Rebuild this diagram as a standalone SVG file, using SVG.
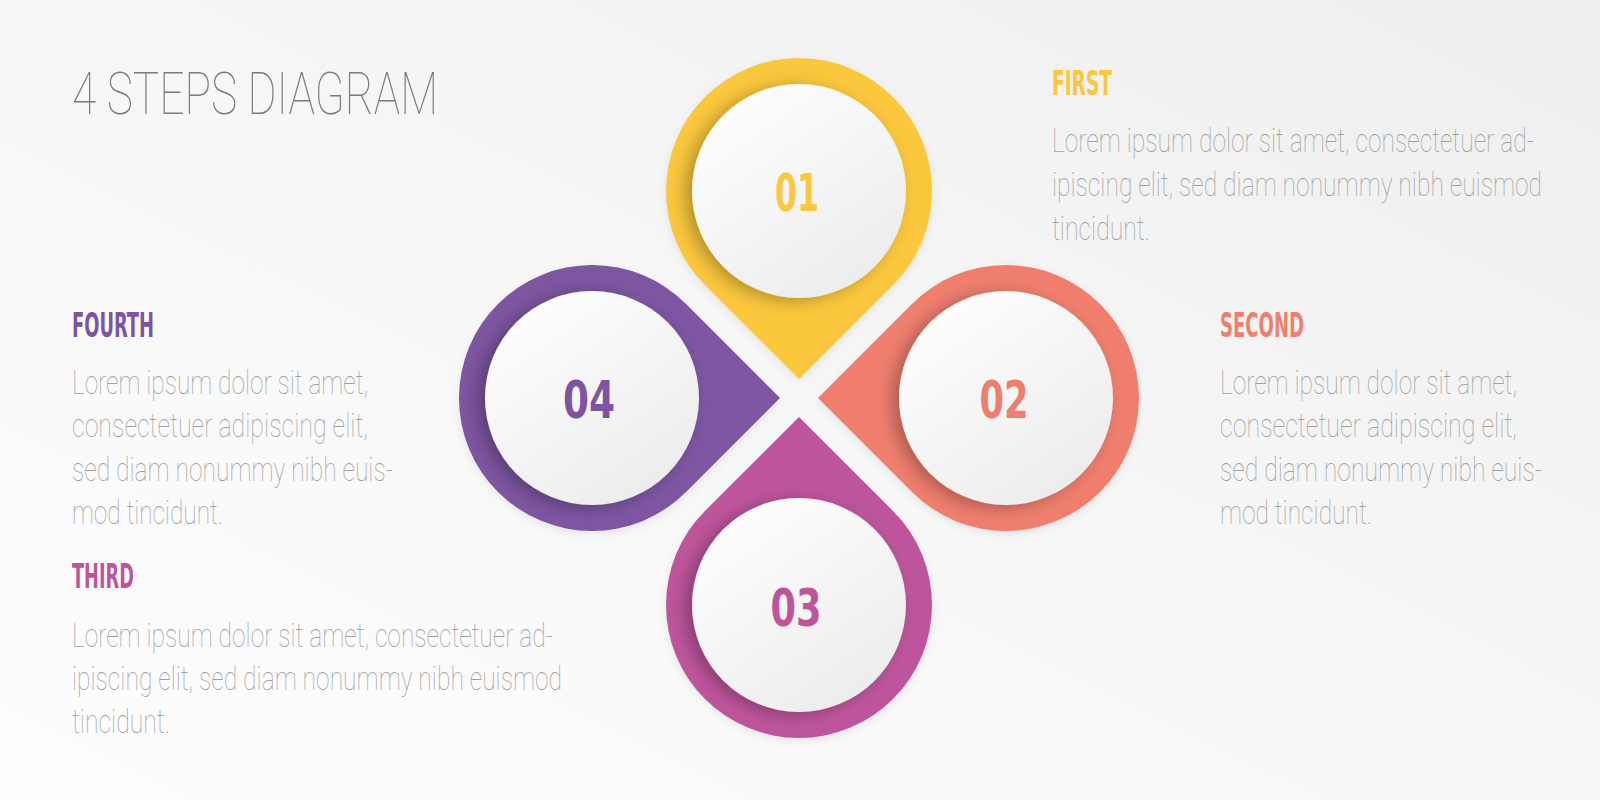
<svg xmlns="http://www.w3.org/2000/svg" xmlns:xlink="http://www.w3.org/1999/xlink" width="1600" height="800" viewBox="0 0 1600 800">
  <defs>
    <linearGradient id="bg" x1="0" y1="1" x2="1" y2="0">
      <stop offset="0" stop-color="#fdfdfd"/>
      <stop offset="0.5" stop-color="#f7f7f7"/>
      <stop offset="1" stop-color="#eeeeee"/>
    </linearGradient>
    <linearGradient id="innerGrad" x1="0.2" y1="0.1" x2="0.8" y2="0.95">
      <stop offset="0" stop-color="#fdfdfd"/>
      <stop offset="1" stop-color="#ececec"/>
    </linearGradient>
    <filter id="outerShadow" x="-20%" y="-20%" width="140%" height="140%">
      <feDropShadow dx="0" dy="3" stdDeviation="4" flood-color="#000" flood-opacity="0.08"/>
    </filter>
    <filter id="innerShadow" x="-30%" y="-30%" width="160%" height="160%">
      <feDropShadow dx="-7" dy="3" stdDeviation="8" flood-color="#000" flood-opacity="0.28"/>
    </filter>
    <path id="drop" d="M0,188 L94.05,94.05 A133,133 0 1 0 -94.05,94.05 Z"/>
    <style>
      .title { font-family: Roboto, "Liberation Sans", sans-serif; font-weight: 100; font-size: 60px; fill: #7a7a7a; }
      .head { font-family: "DejaVu Sans Condensed", "DejaVu Sans", sans-serif; font-weight: bold; font-size: 34px; }
      .body { font-family: Roboto, "Liberation Sans", sans-serif; font-weight: 100; font-size: 34px; fill: #a0a0a0; }
      .num { font-family: "DejaVu Sans Condensed", "DejaVu Sans", sans-serif; font-weight: bold; font-size: 51px; text-anchor: middle; }
      .yellow { fill: #fac73e; }
      .salmon { fill: #ef7e6e; }
      .magenta { fill: #be559c; }
      .purple { fill: #7d54a1; }
    </style>
  </defs>

  <rect x="0" y="0" width="1600" height="800" fill="url(#bg)"/>

  <text class="title" x="72" y="114" textLength="366" lengthAdjust="spacingAndGlyphs">4 STEPS DIAGRAM</text>

  <g id="connectors"></g>

  <g id="node1" transform="translate(799,191)">
    <g filter="url(#outerShadow)"><use href="#drop" class="yellow"/></g>
    <circle r="107" fill="url(#innerGrad)" filter="url(#innerShadow)"/>
    <text class="num yellow" x="-2" y="20" textLength="44" lengthAdjust="spacingAndGlyphs">01</text>
  </g>

  <g id="node2" transform="translate(1006,398)">
    <g filter="url(#outerShadow)"><use href="#drop" class="salmon" transform="rotate(90)"/></g>
    <circle r="107" fill="url(#innerGrad)" filter="url(#innerShadow)"/>
    <text class="num salmon" x="-2" y="20" textLength="49" lengthAdjust="spacingAndGlyphs">02</text>
  </g>

  <g id="node3" transform="translate(799,605)">
    <g filter="url(#outerShadow)"><use href="#drop" class="magenta" transform="rotate(180)"/></g>
    <circle r="107" fill="url(#innerGrad)" filter="url(#innerShadow)"/>
    <text class="num magenta" x="-3" y="21" textLength="51" lengthAdjust="spacingAndGlyphs">03</text>
  </g>

  <g id="node4" transform="translate(592,398)">
    <g filter="url(#outerShadow)"><use href="#drop" class="purple" transform="rotate(-90)"/></g>
    <circle r="107" fill="url(#innerGrad)" filter="url(#innerShadow)"/>
    <text class="num purple" x="-3" y="20" textLength="52" lengthAdjust="spacingAndGlyphs">04</text>
  </g>

  <g id="text-first">
    <text class="head yellow" x="1052" y="95" textLength="60" lengthAdjust="spacingAndGlyphs">FIRST</text>
    <text class="body" transform="translate(1052,152) scale(0.72,1)" textLength="669.4" lengthAdjust="spacingAndGlyphs">Lorem ipsum dolor sit amet, consectetuer ad-</text>
    <text class="body" transform="translate(1052,196) scale(0.72,1)" textLength="680.6" lengthAdjust="spacingAndGlyphs">ipiscing elit, sed diam nonummy nibh euismod</text>
    <text class="body" transform="translate(1052,240) scale(0.72,1)" textLength="136.1" lengthAdjust="spacingAndGlyphs">tincidunt.</text>
  </g>

  <g id="text-second">
    <text class="head salmon" x="1220" y="337" textLength="84" lengthAdjust="spacingAndGlyphs">SECOND</text>
    <text class="body" transform="translate(1220,394) scale(0.72,1)" textLength="412.5" lengthAdjust="spacingAndGlyphs">Lorem ipsum dolor sit amet,</text>
    <text class="body" transform="translate(1220,437) scale(0.72,1)" textLength="412.5" lengthAdjust="spacingAndGlyphs">consectetuer adipiscing elit,</text>
    <text class="body" transform="translate(1220,481) scale(0.72,1)" textLength="447.2" lengthAdjust="spacingAndGlyphs">sed diam nonummy nibh euis-</text>
    <text class="body" transform="translate(1220,524) scale(0.72,1)" textLength="211.1" lengthAdjust="spacingAndGlyphs">mod tincidunt.</text>
  </g>

  <g id="text-fourth">
    <text class="head purple" x="72" y="337" textLength="82" lengthAdjust="spacingAndGlyphs">FOURTH</text>
    <text class="body" transform="translate(72,394) scale(0.72,1)" textLength="411.1" lengthAdjust="spacingAndGlyphs">Lorem ipsum dolor sit amet,</text>
    <text class="body" transform="translate(72,437) scale(0.72,1)" textLength="411.1" lengthAdjust="spacingAndGlyphs">consectetuer adipiscing elit,</text>
    <text class="body" transform="translate(72,481) scale(0.72,1)" textLength="445.8" lengthAdjust="spacingAndGlyphs">sed diam nonummy nibh euis-</text>
    <text class="body" transform="translate(72,524) scale(0.72,1)" textLength="209.7" lengthAdjust="spacingAndGlyphs">mod tincidunt.</text>
  </g>

  <g id="text-third">
    <text class="head magenta" x="72" y="588" textLength="62" lengthAdjust="spacingAndGlyphs">THIRD</text>
    <text class="body" transform="translate(72,647) scale(0.72,1)" textLength="668.1" lengthAdjust="spacingAndGlyphs">Lorem ipsum dolor sit amet, consectetuer ad-</text>
    <text class="body" transform="translate(72,690) scale(0.72,1)" textLength="680.6" lengthAdjust="spacingAndGlyphs">ipiscing elit, sed diam nonummy nibh euismod</text>
    <text class="body" transform="translate(72,733) scale(0.72,1)" textLength="136.1" lengthAdjust="spacingAndGlyphs">tincidunt.</text>
  </g>
</svg>
